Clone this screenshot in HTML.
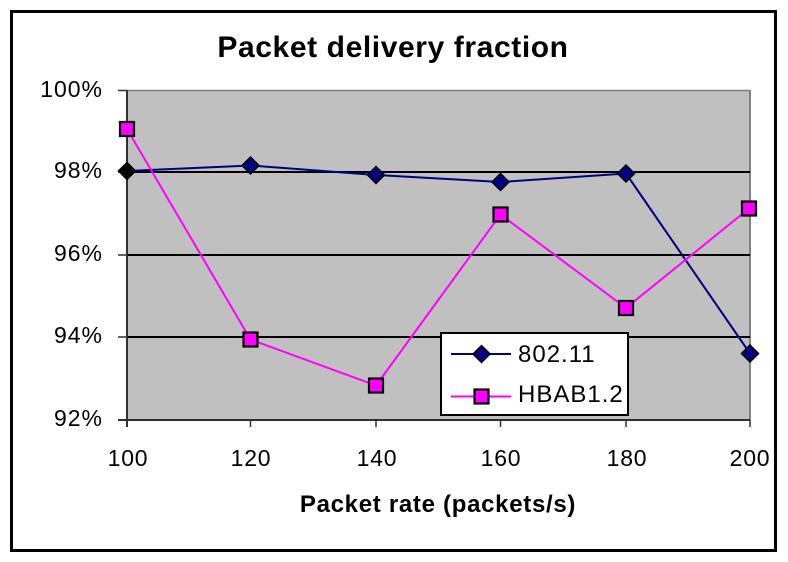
<!DOCTYPE html>
<html>
<head>
<meta charset="utf-8">
<style>
  html, body { margin: 0; padding: 0; background: #ffffff; }
  svg { display: block; }
  text { font-family: "Liberation Sans", Arial, sans-serif; fill: #000; }
</style>
</head>
<body>
<svg width="788" height="562" viewBox="0 0 788 562" xmlns="http://www.w3.org/2000/svg">
  <rect x="0" y="0" width="788" height="562" fill="#ffffff"/>
  <!-- outer frame -->
  <rect x="11.5" y="11.5" width="764" height="539" fill="none" stroke="#000" stroke-width="3"/>

  <!-- title -->
  <text x="393" y="57" font-size="30" font-weight="bold" text-anchor="middle" letter-spacing="0.6">Packet delivery fraction</text>

  <!-- plot area -->
  <rect x="127" y="90" width="623" height="330" fill="#c0c0c0"/>
  <line x1="127" y1="90.5" x2="750" y2="90.5" stroke="#808080" stroke-width="1.5"/>
  <line x1="750" y1="90" x2="750" y2="420" stroke="#808080" stroke-width="2"/>

  <!-- gridlines -->
  <line x1="127" y1="172" x2="750" y2="172" stroke="#000" stroke-width="2"/>
  <line x1="127" y1="255" x2="750" y2="255" stroke="#000" stroke-width="2"/>
  <line x1="127" y1="337" x2="750" y2="337" stroke="#000" stroke-width="2"/>

  <!-- axes -->
  <line x1="127" y1="90" x2="127" y2="427" stroke="#303030" stroke-width="2"/>
  <line x1="118" y1="420" x2="750" y2="420" stroke="#303030" stroke-width="2"/>

  <!-- y ticks -->
  <g stroke="#303030" stroke-width="1.5">
    <line x1="118" y1="90.5" x2="127" y2="90.5"/>
    <line x1="118" y1="172" x2="127" y2="172"/>
    <line x1="118" y1="255" x2="127" y2="255"/>
    <line x1="118" y1="337" x2="127" y2="337"/>
  </g>
  <!-- x ticks -->
  <g stroke="#303030" stroke-width="1.5">
    <line x1="250.5" y1="420" x2="250.5" y2="427"/>
    <line x1="376" y1="420" x2="376" y2="427"/>
    <line x1="500.5" y1="420" x2="500.5" y2="427"/>
    <line x1="626" y1="420" x2="626" y2="427"/>
    <line x1="750" y1="420" x2="750" y2="427"/>
  </g>

  <!-- y labels -->
  <g font-size="23" text-anchor="end" letter-spacing="1">
    <text x="103" y="97">100%</text>
    <text x="103" y="178">98%</text>
    <text x="103" y="261">96%</text>
    <text x="103" y="343">94%</text>
    <text x="103" y="426">92%</text>
  </g>

  <!-- x labels -->
  <g font-size="23" text-anchor="middle" letter-spacing="0.8">
    <text x="128" y="466">100</text>
    <text x="251" y="466">120</text>
    <text x="377" y="466">140</text>
    <text x="501" y="466">160</text>
    <text x="627" y="466">180</text>
    <text x="750" y="466">200</text>
  </g>

  <!-- x axis title -->
  <text x="438" y="512" font-size="24" font-weight="bold" text-anchor="middle" letter-spacing="0.7">Packet rate (packets/s)</text>

  <!-- series 802.11 -->
  <polyline points="127,171 250.5,165.5 376,175 500.5,182 626,173.5 750,353.5" fill="none" stroke="#000080" stroke-width="2"/>
  <!-- series HBAB1.2 -->
  <polyline points="127,129 250.5,339.5 376,385.5 500.5,214.5 626,308 749,208.5" fill="none" stroke="#ff00ff" stroke-width="2"/>

  <!-- diamonds -->
  <g stroke="#000" stroke-width="1.5">
    <polygon points="127,162.5 135.5,171 127,179.5 118.5,171" fill="#000000"/>
    <polygon points="250.5,157 259,165.5 250.5,174 242,165.5" fill="#000080"/>
    <polygon points="376,166.5 384.5,175 376,183.5 367.5,175" fill="#000080"/>
    <polygon points="500.5,173.5 509,182 500.5,190.5 492,182" fill="#000080"/>
    <polygon points="626,165 634.5,173.5 626,182 617.5,173.5" fill="#000080"/>
    <polygon points="750,345 758.5,353.5 750,362 741.5,353.5" fill="#000080"/>
  </g>

  <!-- squares -->
  <g fill="#ff00ff" stroke="#000" stroke-width="2.2">
    <rect x="120" y="122" width="14" height="14"/>
    <rect x="243.5" y="332.5" width="14" height="14"/>
    <rect x="369" y="378.5" width="14" height="14"/>
    <rect x="493.5" y="207.5" width="14" height="14"/>
    <rect x="619" y="301" width="14" height="14"/>
    <rect x="742" y="201.5" width="14" height="14"/>
  </g>

  <!-- legend -->
  <rect x="441" y="333" width="187" height="82" fill="#ffffff" stroke="#000" stroke-width="2"/>
  <line x1="451" y1="354" x2="511" y2="354" stroke="#000080" stroke-width="2"/>
  <polygon points="481.5,345.5 490,354 481.5,362.5 473,354" fill="#000080" stroke="#000" stroke-width="1.5"/>
  <line x1="451" y1="396.5" x2="511" y2="396.5" stroke="#ff00ff" stroke-width="2"/>
  <rect x="474.5" y="389.5" width="14" height="14" fill="#ff00ff" stroke="#000" stroke-width="2.2"/>
  <g font-size="24" letter-spacing="1">
    <text x="518" y="362">802.11</text>
    <text x="518" y="402">HBAB1.2</text>
  </g>
</svg>
</body>
</html>
